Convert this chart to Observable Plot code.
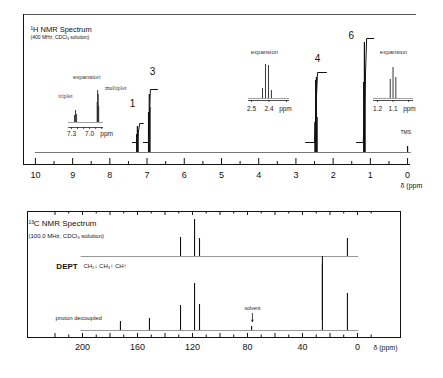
<!DOCTYPE html>
<html>
<head>
<meta charset="utf-8">
<script src="https://cdn.jsdelivr.net/npm/d3@7"></script>
<script src="https://cdn.jsdelivr.net/npm/@observablehq/plot@0.6"></script>
<style>
  html, body { margin: 0; padding: 0; background: #fff; }
  #chart { position: relative; width: 443px; height: 378px; overflow: hidden; }
  #chart svg { position: absolute; left: 0; }
</style>
</head>
<body>
<div id="chart"></div>
<script>
// ================= DATA =================
// ---- 1H NMR spectrum (ppm) ----
const hTicksMajor = [10, 9, 8, 7, 6, 5, 4, 3, 2, 1, 0];
const hTicksMinor = [9.5, 8.5, 7.5, 6.5, 5.5, 4.5, 3.5, 2.5, 1.5, 0.5];
const hBaselineRange = [10, -0.1];
const hPeakPpm    = [7.28, 7.26, 7.24, 6.96, 6.94, 6.92, 2.49, 2.47, 2.45, 2.43, 1.18, 1.16, 1.14, 0.00];
const hPeakHeight = [18,   26,   18,   40,   58,   45,   30,   72,   75,   35,   70,   110,  75,   6];
// integral traces: ppm points and integral level
const integral1H = {ppm: [7.39, 7.27, 7.20, 7.10], level: [10, 10, 29, 29]};
const integral3H = {ppm: [7.10, 6.96, 6.91, 6.72], level: [10, 10, 63, 63]};
const integral4H = {ppm: [2.74, 2.50, 2.42, 2.18], level: [10, 10, 80, 80]};
const integral6H = {ppm: [1.37, 1.19, 1.10, 0.91], level: [10, 10, 114, 114]};
const integralLabels = ["1", "3", "4", "6"];
const integralLabelPpm = [7.39, 6.85, 2.42, 1.51];
const integralLabelLevel = [49, 81, 94, 117];

// expansions
const expAromPpm    = [7.25, 7.233, 7.216, 6.875, 6.867, 6.858, 6.85];
const expAromHeight = [7,    12,    8,     20,    32,    28,    16];
const expAromTicks  = [7.3, 7.2, 7.1, 7.0, 6.9, 6.8];
const expAromLabels = ["7.3", "7.0"];
const expQuartetPpm    = [2.437, 2.420, 2.403, 2.386];
const expQuartetHeight = [10, 34, 33, 8];
const expQuartetTicks  = [2.5, 2.4, 2.3];
const expQuartetLabels = ["2.5", "2.4"];
const expTripletPpm    = [1.118, 1.100, 1.082];
const expTripletHeight = [19, 31, 21];
const expTripletTicks  = [1.2, 1.1, 1.0];
const expTripletLabels = ["1.2", "1.1"];

// ---- 13C NMR spectrum (ppm) ----
const cTicks = [220, 210, 200, 190, 180, 170, 160, 150, 140, 130, 120, 110, 100, 90, 80, 70, 60, 50, 40, 30, 20, 10, 0, -10];
const cTickLabels = [200, 160, 120, 80, 40, 0];
const cBaselineRange = [201, -1];
const deptPpm    = [128.7, 118.5, 114.9, 25.5, 7.3];
const deptHeight = [19,    37,    18,    -64,  18];
const decoupledPpm    = [172.4, 151.3, 128.7, 118.5, 114.9, 77.0, 25.5, 7.3];
const decoupledHeight = [9,     12,    25,    47,    26,    4,    66,   37];

// ================= LAYOUT =================
const W = 443;
const FONT = "'Liberation Sans', Arial, Helvetica, sans-serif";
const SERIF = "'Liberation Serif', 'Times New Roman', serif";
const baseStyle = {background: "transparent", fontFamily: FONT, overflow: "visible", color: "#111"};
const chart = document.getElementById("chart");
function place(svg, y) { svg.style.top = y + "px"; chart.appendChild(svg); }

// ---------- top panel: 1H ----------
const H_X = [10.32, -0.24];
const H_Y = [-12, 138];
const hPeaks = hPeakPpm.map((p, i) => ({ppm: p, h: hPeakHeight[i]}));
const integrals = [["1H", integral1H], ["3H", integral3H], ["4H", integral4H], ["6H", integral6H]]
  .flatMap(([id, t]) => t.ppm.map((p, i) => ({id, ppm: p, level: t.level[i]})));
const hLabels = integralLabels.map((t, i) => ({text: t, ppm: integralLabelPpm[i], level: integralLabelLevel[i]}));

const protonPlot = Plot.plot({
  width: W, height: 190,
  marginLeft: 23, marginRight: 27, marginTop: 14, marginBottom: 26,
  x: {domain: H_X, axis: null},
  y: {domain: H_Y, axis: null},
  style: baseStyle,
  marks: [
    Plot.ruleY([H_Y[1]], {stroke: "#555", strokeWidth: 1}),
    Plot.ruleX([H_X[0]], {stroke: "#111", strokeWidth: 1}),
    Plot.ruleY([H_Y[0]], {x1: H_X[0], x2: -0.08, stroke: "#111", strokeWidth: 1}),
    Plot.ruleX(hTicksMajor, {x: d => d, y1: H_Y[0], y2: H_Y[0] + 6, stroke: "#111"}),
    Plot.ruleX(hTicksMinor, {x: d => d, y1: H_Y[0], y2: H_Y[0] + 3, stroke: "#111"}),
    Plot.text(hTicksMajor, {x: d => d, y: H_Y[0], dy: 11, text: d => String(d), fontSize: 9, fill: "#111"}),
    Plot.text(["δ (ppm"], {x: 0.19, y: H_Y[0], dy: 21, text: d => d, textAnchor: "start", fontSize: 7, fill: "#111"}),
    Plot.ruleY([0], {x1: hBaselineRange[0], x2: hBaselineRange[1], stroke: "#777", strokeWidth: 1}),
    Plot.ruleX(hPeaks, {x: "ppm", y1: 0, y2: "h", stroke: "#111", strokeWidth: 1.2}),
    Plot.line(integrals, {x: "ppm", y: "level", z: "id", stroke: "#111", strokeWidth: 1}),
    Plot.text(hLabels, {x: "ppm", y: "level", text: "text", fontSize: 10, fill: "#111"}),
    Plot.text(["TMS"], {x: 0.05, y: 20, text: d => d, fontSize: 5, fill: "#111"}),
    Plot.text(["¹H NMR Spectrum"], {frameAnchor: "top-left", dx: 7, dy: 12, text: d => d, textAnchor: "start", fontSize: 7.5, fill: "#111"}),
    Plot.text(["(400 MHz, CDCl₃ solution)"], {frameAnchor: "top-left", dx: 7, dy: 21, text: d => d, textAnchor: "start", fontSize: 5, fill: "#111"})
  ]
});
place(protonPlot, 0);

// ---------- expansions ----------
function expansion(cfg) {
  const peaks = cfg.ppm.map((p, i) => ({ppm: p, h: cfg.height[i]}));
  const labels = cfg.labels.map(s => ({ppm: +s, text: s}));
  return Plot.plot({
    width: W, height: 190,
    marginLeft: cfg.left, marginRight: W - cfg.right,
    marginTop: cfg.axisPx - cfg.span, marginBottom: 190 - cfg.axisPx,
    x: {domain: cfg.domain, axis: null},
    y: {domain: [cfg.axisVal, cfg.axisVal + cfg.span], axis: null},
    style: baseStyle,
    marks: [
      Plot.ruleY([0], {stroke: "#888", strokeWidth: 0.8}),
      Plot.ruleY([cfg.axisVal], {stroke: "#222", strokeWidth: 0.8}),
      Plot.ruleX(cfg.ticks, {x: d => d, y1: cfg.axisVal, y2: cfg.axisVal - 2, stroke: "#222", strokeWidth: 0.8}),
      Plot.ruleX(peaks, {x: "ppm", y1: 0, y2: "h", stroke: "#222", strokeWidth: 0.9}),
      Plot.text(labels, {x: "ppm", y: cfg.axisVal, dy: cfg.labelDy, text: "text", fontSize: 6.5, fill: "#222"}),
      Plot.text(["ppm"], {x: cfg.ppmAt, y: cfg.axisVal, dy: cfg.labelDy, text: d => d, fontSize: 6.5, fill: "#222"}),
      Plot.text(cfg.notes.filter(d => !d.serif), {x: "ppm", y: "level", text: "text", fontSize: 6, fill: "#333"}),
      Plot.text(cfg.notes.filter(d => d.serif), {x: "ppm", y: "level", text: "text", fontSize: 6, fill: "#444", fontFamily: SERIF})
    ]
  });
}
place(expansion({
  left: 68, right: 103, axisPx: 127, axisVal: -5, span: 45, labelDy: 6.5,
  domain: [7.35, 6.77], ppm: expAromPpm, height: expAromHeight,
  ticks: expAromTicks, labels: expAromLabels, ppmAt: 6.717,
  notes: [{text: "expansion", ppm: 7.05, level: 45}, {text: "triplet", ppm: 7.40, level: 26, serif: true},
          {text: "multiplet", ppm: 6.567, level: 34, serif: true}]
}), 0);
place(expansion({
  left: 248, right: 289, axisPx: 100, axisVal: -2, span: 45, labelDy: 8.5,
  domain: [2.517, 2.283], ppm: expQuartetPpm, height: expQuartetHeight,
  ticks: expQuartetTicks, labels: expQuartetLabels, ppmAt: 2.306,
  notes: [{text: "expansion", ppm: 2.426, level: 46}]
}), 0);
place(expansion({
  left: 373, right: 413, axisPx: 100, axisVal: -2, span: 45, labelDy: 8.5,
  domain: [1.226, 0.968], ppm: expTripletPpm, height: expTripletHeight,
  ticks: expTripletTicks, labels: expTripletLabels, ppmAt: 0.994,
  notes: [{text: "expansion", ppm: 1.097, level: 46}]
}), 0);

// ---------- bottom panel: 13C ----------
const C_X = [240, -31.3];
const C_Y = [-7, 119];
const DEPT_BASE = 74;
const dept = deptPpm.map((p, i) => ({ppm: p, h: deptHeight[i]}));
const decoupled = decoupledPpm.map((p, i) => ({ppm: p, h: decoupledHeight[i]}));
const cMajor = cTicks.filter(t => t % 20 === 0);
const cMinor = cTicks.filter(t => t % 20 !== 0);

const carbonPlot = Plot.plot({
  width: W, height: 188,
  marginLeft: 27, marginRight: 43, marginTop: 21, marginBottom: 41,
  x: {domain: C_X, axis: null},
  y: {domain: C_Y, axis: null},
  style: baseStyle,
  marks: [
    Plot.frame({stroke: "#111", strokeWidth: 1}),
    Plot.ruleX(cMajor, {x: d => d, y1: C_Y[0], y2: C_Y[0] + 4, stroke: "#111"}),
    Plot.ruleX(cMinor, {x: d => d, y1: C_Y[0], y2: C_Y[0] + 2.5, stroke: "#111"}),
    Plot.ruleX(cMajor, {x: d => d, y1: C_Y[1], y2: C_Y[1] - 4, stroke: "#111"}),
    Plot.ruleX(cMinor, {x: d => d, y1: C_Y[1], y2: C_Y[1] - 2.5, stroke: "#111"}),
    Plot.text(cTickLabels, {x: d => d, y: C_Y[0], dy: 10, text: d => String(d), fontSize: 9, fill: "#111"}),
    Plot.text(["δ (ppm)"], {x: -11.6, y: C_Y[0], dy: 10, text: d => d, textAnchor: "start", fontSize: 7, fill: "#111"}),
    Plot.ruleY([0, DEPT_BASE], {x1: cBaselineRange[0], x2: cBaselineRange[1], stroke: "#999", strokeWidth: 1}),
    Plot.ruleX(dept, {x: "ppm", y1: DEPT_BASE, y2: d => DEPT_BASE + d.h, stroke: "#111", strokeWidth: 1.1}),
    Plot.ruleX(decoupled, {x: "ppm", y1: 0, y2: "h", stroke: "#111", strokeWidth: 1.1}),
    Plot.text(["¹³C NMR Spectrum"], {frameAnchor: "top-left", dx: 1, dy: 9, text: d => d, textAnchor: "start", fontSize: 8, fill: "#111"}),
    Plot.text(["(100.0 MHz, CDCl₃ solution)"], {frameAnchor: "top-left", dx: 1, dy: 22, text: d => d, textAnchor: "start", fontSize: 6, fill: "#111"}),
    Plot.text(["DEPT"], {x: 219, y: 64, text: d => d, textAnchor: "start", fontSize: 8, fontWeight: "bold", fill: "#111"}),
    Plot.text(["CH₂↓ CH₃↑ CH↑"], {x: 199.3, y: 64, text: d => d, textAnchor: "start", fontSize: 6, fill: "#222"}),
    Plot.text(["proton decoupled"], {x: 219.6, y: 12, text: d => d, textAnchor: "start", fontSize: 6, fill: "#222"}),
    Plot.text(["solvent"], {x: 76.4, y: 22, text: d => d, fontSize: 5, fill: "#222"}),
    Plot.arrow([{ppm: 76.4, from: 17, to: 9}], {x1: "ppm", x2: "ppm", y1: "from", y2: "to", headLength: 3, strokeWidth: 0.8, stroke: "#111"})
  ]
});
place(carbonPlot, 190);
</script>
</body>
</html>
